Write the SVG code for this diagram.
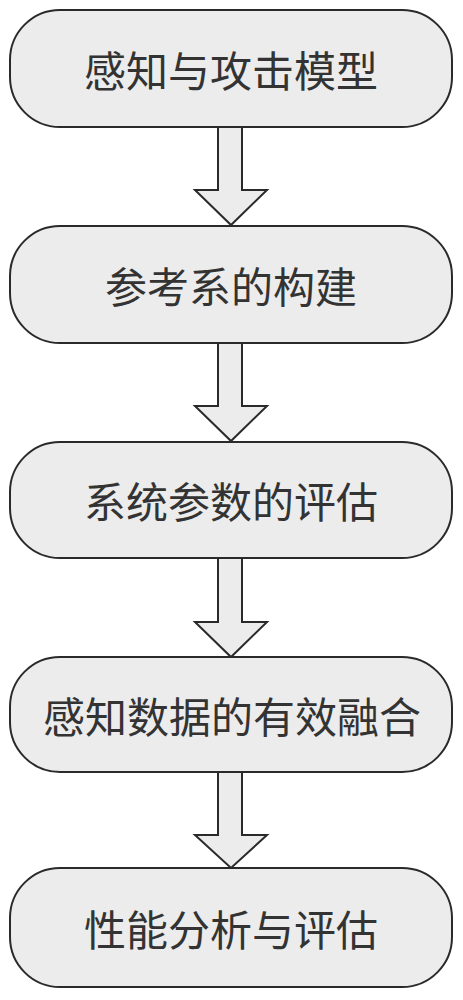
<svg xmlns="http://www.w3.org/2000/svg" width="463" height="1000" viewBox="0 0 463 1000">
<style>
.box{fill:#ececec;stroke:#2a2a2a;stroke-width:2}
.arr{fill:#ececec;stroke:#2a2a2a;stroke-width:2;stroke-linejoin:miter}
.lbl{font-family:"Noto Sans CJK SC","Noto Sans",sans-serif;font-size:42px;fill:#333;text-anchor:middle;dominant-baseline:central}
</style>
<rect width="463" height="1000" fill="#fff"/>
<g id="connectors">
<path class="arr" d="M218,127 V190 H195 L231,225 L267,190 H242 V127"/>
<path class="arr" d="M218,343 V406 H195 L231,441 L267,406 H242 V343"/>
<path class="arr" d="M218,558 V622 H195 L231,657 L267,622 H242 V558"/>
<path class="arr" d="M218,772 V835 H195 L231,868 L267,835 H242 V772"/>
</g>
<g id="n1"><rect class="box" x="10" y="10" width="442" height="117" rx="50" ry="50"/><text class="lbl" x="231" y="68">感知与攻击模型</text></g>
<g id="n2"><rect class="box" x="10" y="226" width="442" height="117" rx="50" ry="50"/><text class="lbl" x="231" y="284">参考系的构建</text></g>
<g id="n3"><rect class="box" x="10" y="442" width="442" height="116" rx="50" ry="50"/><text class="lbl" x="231" y="499">系统参数的评估</text></g>
<g id="n4"><rect class="box" x="10" y="657" width="442" height="115" rx="50" ry="50"/><text class="lbl" x="232" y="714">感知数据的有效融合</text></g>
<g id="n5"><rect class="box" x="10" y="868" width="442" height="119" rx="50" ry="50"/><text class="lbl" x="231" y="927">性能分析与评估</text></g>
</svg>
